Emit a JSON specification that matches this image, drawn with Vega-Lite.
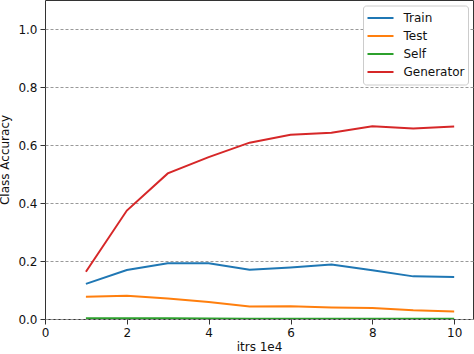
{
  "$schema": "https://vega.github.io/schema/vega-lite/v6.json",
  "width": 428,
  "height": 319,
  "autosize": {"type": "none"},
  "padding": {"left": 45, "top": 0, "right": 1, "bottom": 35},
  "background": "white",
  "config": {
    "font": "DejaVu Sans",
    "view": {"stroke": "#333", "strokeWidth": 1}
  },
  "data": {
    "values": [
      {"itr": 1, "series": "Train", "acc": 0.121},
      {"itr": 2, "series": "Train", "acc": 0.169},
      {"itr": 3, "series": "Train", "acc": 0.192},
      {"itr": 4, "series": "Train", "acc": 0.192},
      {"itr": 5, "series": "Train", "acc": 0.170},
      {"itr": 6, "series": "Train", "acc": 0.178},
      {"itr": 7, "series": "Train", "acc": 0.188},
      {"itr": 8, "series": "Train", "acc": 0.168},
      {"itr": 9, "series": "Train", "acc": 0.147},
      {"itr": 10, "series": "Train", "acc": 0.145},
      {"itr": 1, "series": "Test", "acc": 0.077},
      {"itr": 2, "series": "Test", "acc": 0.080},
      {"itr": 3, "series": "Test", "acc": 0.071},
      {"itr": 4, "series": "Test", "acc": 0.059},
      {"itr": 5, "series": "Test", "acc": 0.043},
      {"itr": 6, "series": "Test", "acc": 0.044},
      {"itr": 7, "series": "Test", "acc": 0.040},
      {"itr": 8, "series": "Test", "acc": 0.038},
      {"itr": 9, "series": "Test", "acc": 0.030},
      {"itr": 10, "series": "Test", "acc": 0.026},
      {"itr": 1, "series": "Self", "acc": 0.003},
      {"itr": 2, "series": "Self", "acc": 0.003},
      {"itr": 3, "series": "Self", "acc": 0.003},
      {"itr": 4, "series": "Self", "acc": 0.002},
      {"itr": 5, "series": "Self", "acc": 0.001},
      {"itr": 6, "series": "Self", "acc": 0.001},
      {"itr": 7, "series": "Self", "acc": 0.001},
      {"itr": 8, "series": "Self", "acc": 0.001},
      {"itr": 9, "series": "Self", "acc": 0.001},
      {"itr": 10, "series": "Self", "acc": 0.001},
      {"itr": 1, "series": "Generator", "acc": 0.163},
      {"itr": 2, "series": "Generator", "acc": 0.374},
      {"itr": 3, "series": "Generator", "acc": 0.502},
      {"itr": 4, "series": "Generator", "acc": 0.558},
      {"itr": 5, "series": "Generator", "acc": 0.608},
      {"itr": 6, "series": "Generator", "acc": 0.635},
      {"itr": 7, "series": "Generator", "acc": 0.642},
      {"itr": 8, "series": "Generator", "acc": 0.665},
      {"itr": 9, "series": "Generator", "acc": 0.657},
      {"itr": 10, "series": "Generator", "acc": 0.664}
    ]
  },
  "mark": {"type": "line", "strokeWidth": 2, "clip": true},
  "encoding": {
    "x": {
      "field": "itr",
      "type": "quantitative",
      "scale": {"domain": [0, 10.46], "nice": false, "zero": false},
      "axis": {
        "title": "itrs 1e4",
        "values": [0, 2, 4, 6, 8, 10],
        "grid": false,
        "domain": false,
        "tickColor": "#333",
        "tickSize": 5,
        "labelPadding": 3,
        "labelFontSize": 12,
        "labelColor": "#111",
        "labelFlush": false,
        "titleFontSize": 12,
        "titleFontWeight": "normal",
        "titleColor": "#111",
        "titlePadding": 3
      }
    },
    "y": {
      "field": "acc",
      "type": "quantitative",
      "scale": {"domain": [0, 1.1], "nice": false},
      "axis": {
        "title": "Class Accuracy",
        "values": [0, 0.2, 0.4, 0.6, 0.8, 1.0],
        "format": ".1f",
        "grid": true,
        "gridDash": [3, 2],
        "gridColor": "#999",
        "gridWidth": 1,
        "domain": false,
        "tickColor": "#333",
        "tickSize": 5,
        "labelPadding": 3,
        "labelFontSize": 12,
        "labelColor": "#111",
        "labelFlush": false,
        "titleFontSize": 12,
        "titleFontWeight": "normal",
        "titleColor": "#111",
        "titlePadding": 6
      }
    },
    "color": {
      "field": "series",
      "type": "nominal",
      "sort": ["Train", "Test", "Self", "Generator"],
      "scale": {
        "domain": ["Train", "Test", "Self", "Generator"],
        "range": ["#1f77b4", "#ff7f0e", "#2ca02c", "#d62728"]
      },
      "legend": {
        "title": null,
        "orient": "none",
        "legendX": 318,
        "legendY": 5.5,
        "symbolType": "stroke",
        "symbolSize": 676,
        "symbolStrokeWidth": 2,
        "clipHeight": 18,
        "labelFontSize": 12,
        "labelColor": "#111",
        "labelOffset": 9,
        "rowPadding": 0,
        "padding": 3.5,
        "strokeColor": "#ccc",
        "fillColor": "white",
        "cornerRadius": 3
      }
    },
    "order": {"field": "series"}
  }
}
